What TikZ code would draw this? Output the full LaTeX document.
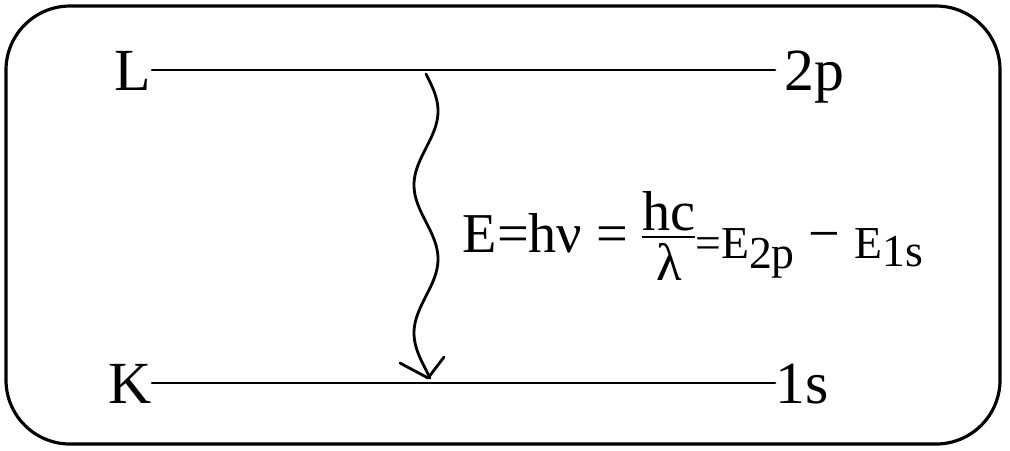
\documentclass[tikz,border=0pt]{standalone}
\usepackage{fontspec}
\setmainfont{Liberation Serif}
\usetikzlibrary{positioning}
\begin{document}
\begin{tikzpicture}[x=0.01cm, y=-0.01cm, line join=round, line cap=round, font=\fontsize{17}{20}\selectfont]
 \tikzset{level/.style={line width=0.75pt},
  lab/.style={inner sep=0pt, text height=0.4cm, text depth=0pt},
  photon/.style={line width=0.8pt}}
 \useasboundingbox (0,0) rectangle (1010,450);
 \draw[line width=0.9pt, rounded corners=0.64cm] (6,6) rectangle (1000,444);
 % energy levels
 \coordinate (La) at (152,70); \coordinate (Lb) at (775,70);
 \coordinate (Ka) at (152,383); \coordinate (Kb) at (775,383);
 \draw[level] (La)--(Lb);
 \draw[level] (Ka)--(Kb);
 \node[lab, left=0pt of La] (L) {L};
 \node[lab, left=0pt of Ka] (K) {K};
 \node[lab, right=0.09cm of Lb] (2p) {2p};
 \node[lab, right=0pt of Kb] (1s) {1s};
 % photon
 \coordinate (emit) at (426,74); \coordinate (tip) at (428,378);
 \draw[photon] plot[domain=74:378, samples=150, smooth] ({426+12*sin((\x-74)/148*360)},\x);
 \draw[photon] (400,363)--(tip)--(444,357);
 \node[anchor=base west, inner sep=0pt, font=\fontsize{16}{19}\selectfont] (eq) at (462,252) {E=hν = \ooalign{\raisebox{0.22cm}{hc}\cr\hfil\raisebox{-0.28cm}{\fontsize{15}{15}\selectfont λ}\hfil\cr\leaders\hrule height 0.162cm depth -0.138cm\hfill\cr}{\fontsize{13}{15}\selectfont\raisebox{-0.06cm}{=E}\raisebox{-0.16cm}{2p}} − {\fontsize{13}{15}\selectfont\raisebox{-0.06cm}{E}\raisebox{-0.14cm}{1s}}};
\end{tikzpicture}
\end{document}
